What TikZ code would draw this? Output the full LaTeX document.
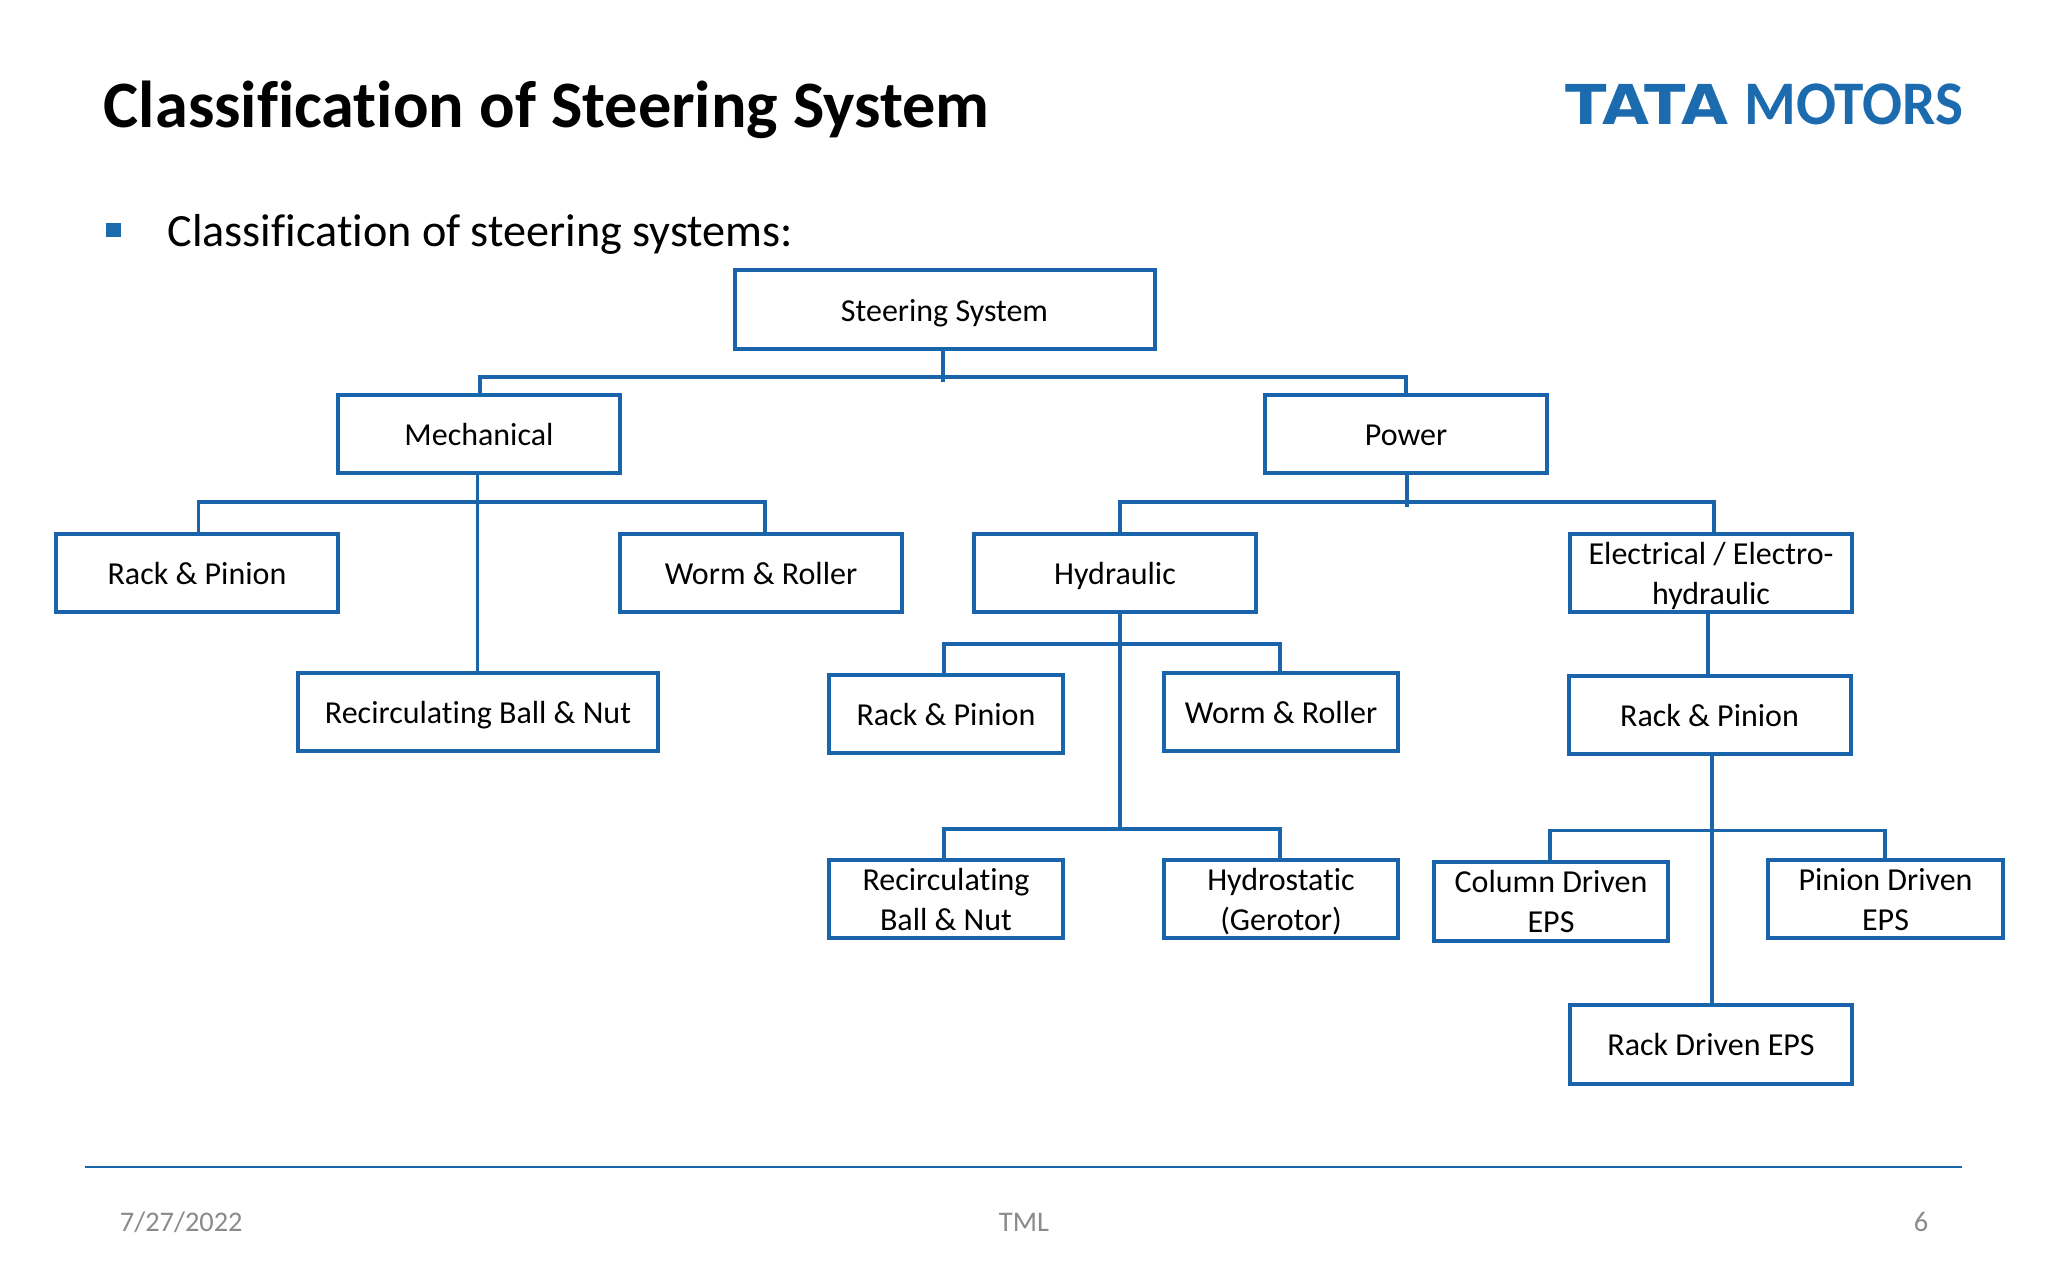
\documentclass[tikz,border=0pt]{standalone}
\usepackage{fontspec}
\usepackage{graphicx}
\setmainfont[Ligatures=NoCommon]{Carlito}
\newfontfamily\logofont{DejaVu Sans}
\definecolor{linkblue}{HTML}{1A64AC}
\definecolor{logoblue}{HTML}{1C6BAE}
\definecolor{footgray}{HTML}{8A8A8A}
\tikzset{
  box/.style={draw=linkblue,line width=2pt,rectangle,inner sep=0pt,outer sep=0pt,align=center,text=black,font=\fontsize{16}{20}\selectfont,minimum width=#1},
  conn/.style={draw=linkblue,line width=1.8pt,line cap=rect},
}
\newcommand{\bx}[6]{\node[box=#4*0.5pt,minimum height=#5*0.5pt] (#1) at (#2,#3) {#6};}
\newcommand{\st}{\vrule width0pt height15.75pt depth4.25pt\relax}
\newcommand{\sta}{\vrule width0pt height15.25pt depth3.75pt\relax}
\begin{document}
\begin{tikzpicture}[x=0.5pt,y=-0.5pt]
\useasboundingbox (0,0) rectangle (2048,1280);
\node[anchor=base west,inner sep=0pt,font=\fontsize{33.15}{38}\selectfont\bfseries] (title) at (103.5,127) {Classification of Steering System};
\node[anchor=base west,inner sep=0pt,text=logoblue,font=\logofont\fontsize{27.5}{30}\selectfont\bfseries] (logoa) at (1565,124.5) {\scalebox{1.105}[1]{TATA}};
\node[anchor=base west,inner sep=0pt,text=logoblue,font=\fontsize{31}{34}\selectfont\bfseries] (logob) at (1744,124.5) {\scalebox{0.955}[1]{MOTORS}};
\node[fill=logoblue,inner sep=0pt,minimum width=7.5pt,minimum height=7pt] (bullet) at (113.5,229.5) {};
\node[anchor=base west,inner sep=0pt,font=\fontsize{23.1}{27}\selectfont] (sub) at (167,246) {Classification of steering systems:};

\bx{root}{944.5}{309.5}{420}{79}{\st Steering System}
\bx{mech}{479}{434}{282}{78}{\st Mechanical}
\bx{power}{1406}{434}{282}{78}{\st Power}
\bx{rpl}{197}{573}{282}{78}{\st Rack \& Pinion}
\bx{wrl}{761}{573}{282}{78}{\st Worm \& Roller}
\bx{rbl}{478}{712}{360}{78}{\st Recirculating Ball \& Nut}
\bx{hyd}{1115}{573}{282}{78}{\st Hydraulic}
\bx{elec}{1711}{573}{282}{78}{\sta Electrical / Electro-\\\sta hydraulic}
\bx{rpm}{946}{714}{234}{78}{\st Rack \& Pinion}
\bx{wrm}{1281}{712}{234}{78}{\st Worm \& Roller}
\bx{rbm}{946}{899}{234}{78}{\sta Recirculating\\\sta Ball \& Nut}
\bx{hst}{1281}{899}{234}{78}{\sta Hydrostatic\\\sta (Gerotor)}
\bx{rpr}{1709.5}{714.5}{282}{78}{\st Rack \& Pinion}
\bx{col}{1551}{901}{234}{79}{\sta Column Driven\\\sta EPS}
\bx{pin}{1885.5}{899}{235}{78}{\sta Pinion Driven\\\sta EPS}
\bx{rde}{1711}{1044}{282}{79}{\st Rack Driven EPS}

\coordinate (b1) at (943,377);
\coordinate (b1l) at (480,377);
\coordinate (b1r) at (1406,377);
\draw[conn] (b1l) -- (b1r);
\draw[conn] (root.south -| b1) -- (943,380);
\draw[conn] (b1l) -- (mech.north -| b1l);
\draw[conn] (b1r) -- (power.north -| b1r);

\coordinate (b2) at (477.5,502);
\coordinate (b2l) at (198.5,502);
\coordinate (b2r) at (765,502);
\draw[conn] (b2l) -- (b2r);
\draw[conn] (b2l) -- (rpl.north -| b2l);
\draw[conn] (b2r) -- (wrl.north -| b2r);
\draw[conn] (mech.south -| b2) -- (rbl.north -| b2);

\coordinate (b3) at (1407,502);
\coordinate (b3l) at (1120,502);
\coordinate (b3r) at (1714,502);
\draw[conn] (b3l) -- (b3r);
\draw[conn] (power.south -| b3) -- (1407,505);
\draw[conn] (b3l) -- (hyd.north -| b3l);
\draw[conn] (b3r) -- (elec.north -| b3r);

\coordinate (b4l) at (944,644);
\coordinate (b4r) at (1280,644);
\coordinate (b5l) at (944,829);
\coordinate (b5r) at (1280,829);
\coordinate (b45) at (1120,829);
\draw[conn] (b4l) -- (b4r);
\draw[conn] (b5l) -- (b5r);
\draw[conn] (hyd.south -| b45) -- (b45);
\draw[conn] (b4l) -- (rpm.north -| b4l);
\draw[conn] (b4r) -- (wrm.north -| b4r);
\draw[conn] (b5l) -- (rbm.north -| b5l);
\draw[conn] (b5r) -- (hst.north -| b5r);

\coordinate (e1) at (1708,612);
\draw[conn] (elec.south -| e1) -- (rpr.north -| e1);

\coordinate (b6) at (1712,830.5);
\coordinate (b6l) at (1550,830.5);
\coordinate (b6r) at (1885,830.5);
\coordinate (b6e) at (1712,1001);
\draw[conn] (b6l) -- (b6r);
\draw[conn] (rpr.south -| b6) -- (b6e);
\draw[conn] (b6l) -- (col.north -| b6l);
\draw[conn] (b6r) -- (pin.north -| b6r);

\coordinate (fl) at (85,1166.5);
\coordinate (fr) at (1962,1166.5);
\draw[linkblue,line width=1pt] (fl) -- (fr);
\node[anchor=base west,inner sep=0pt,text=footgray,font=\fontsize{14.2}{17}\selectfont] (date) at (119.5,1231) {7/27/2022};
\node[anchor=base,inner sep=0pt,text=footgray,font=\fontsize{14.2}{17}\selectfont] (tml) at (1024,1231) {TML};
\node[anchor=base,inner sep=0pt,text=footgray,font=\fontsize{14.2}{17}\selectfont] (num) at (1921,1231) {6};
\end{tikzpicture}
\end{document}
